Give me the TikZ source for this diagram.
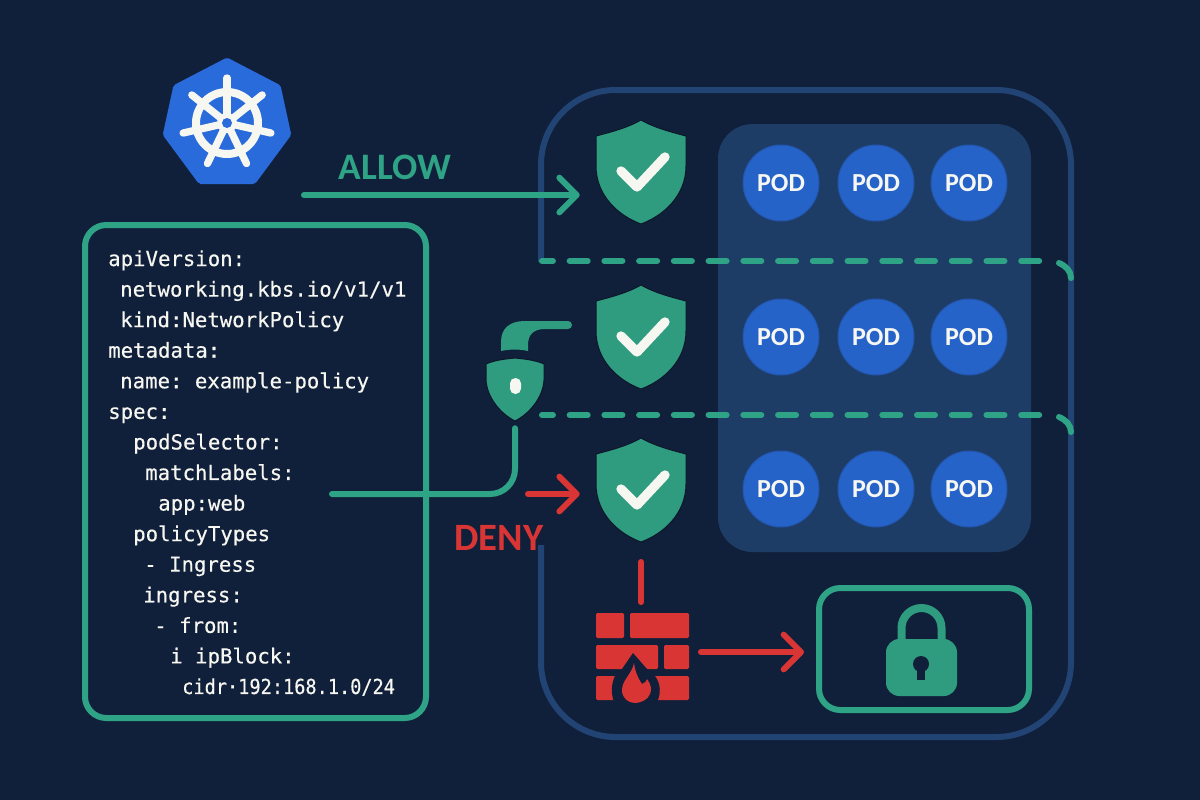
\documentclass[tikz,border=0pt]{standalone}
\usepackage{fontspec}
\setmainfont{Carlito}
\newfontfamily\yamlfont[FakeBold=0.35]{DejaVu Sans Mono}
\usetikzlibrary{arrows.meta,calc}
\definecolor{bgcol}{HTML}{11203A}
\definecolor{framecol}{HTML}{214474}
\definecolor{panelcol}{HTML}{1D3D66}
\definecolor{greencol}{HTML}{2F9C80}
\definecolor{linecol}{HTML}{2FA386}
\definecolor{podcol}{HTML}{2563C9}
\definecolor{kubecol}{HTML}{2A6BDB}
\definecolor{redcol}{HTML}{D93535}
\definecolor{whitecol}{HTML}{F7F7F2}
\tikzstyle{podnode}=[circle, fill=podcol, draw=kubecol!70!bgcol, line width=0.75pt, minimum size=57pt,
  inner sep=0pt, text=whitecol, font=\fontsize{19.5}{20}\selectfont\bfseries]
\tikzstyle{shieldbox}=[minimum width=67.5pt, minimum height=78pt, inner sep=0pt]
\tikzstyle{yaml}=[anchor=base west, inner sep=0pt, text=whitecol, font=\fontsize{15.5}{16}\selectfont\yamlfont\frenchspacing]
\tikzstyle{glabel}=[inner sep=0pt, font=\fontsize{28}{30}\selectfont\bfseries]
\tikzstyle{line}=[draw, line width=4.5pt, line cap=round]
\tikzstyle{gline}=[line, color=linecol]
\tikzstyle{rline}=[line, color=redcol]
\tikzstyle{dashline}=[gline, dash pattern=on 13.5pt off 12.55pt, dash phase=5.3pt]
\tikzstyle{barb}=[-{Straight Barb[length=13pt, width=26pt, round]}]
\tikzstyle{brick}=[fill=redcol, rounded corners=1pt]
\newcommand{\shield}[3]{
  \fill[greencol, draw=bgcol!70!black, line width=0.75pt, shift={(#2,#3)}] (0,-52)
    .. controls (-14,-44) and (-30,-40) .. (-45,-36) -- (-45,-6)
    .. controls (-45,24) and (-22,44) .. (0,52)
    .. controls (22,44) and (45,24) .. (45,-6) -- (45,-36)
    .. controls (30,-40) and (14,-44) .. (0,-52) -- cycle;
  \draw[whitecol, line width=7pt, line cap=round, line join=round, shift={(#2,#3)}]
    (-20,-1) -- (-4,15) -- (24,-15);
  \node (#1) [shieldbox] at (#2,#3) {};
}
\begin{document}
\begin{tikzpicture}[x=0.75pt,y=-0.75pt]
  \useasboundingbox[fill=bgcol] (0,0) rectangle (1200,800);

  % outer frame, open on the left
  \coordinate (fa) at (541,262);
  \coordinate (fb) at (541,545);
  \draw[framecol, line width=4.5pt, rounded corners=56pt] (fa) -- (541,90) -- (1071,90)
    -- (1071,737) -- (541,737) -- (fb);
  \node (panel) [fill=panelcol, rounded corners=26pt, minimum width=234.75pt, minimum height=321pt,
    inner sep=0pt] at (874.5,338) {};

  % pods
  \foreach \row/\yy in {1/183,2/337,3/489} {
    \node (p\row a) [podnode] at (781,\yy) {POD};
    \node (p\row b) [podnode] at (876,\yy) {POD};
    \node (p\row c) [podnode] at (969,\yy) {POD};
  }

  % shields
  \shield{s1}{641}{172}
  \shield{s2}{641}{337}
  \shield{s3}{641}{490}

  % kubernetes wheel
  \node (kube) [minimum size=90pt, inner sep=0pt] at (227,123) {};
  \fill[kubecol, draw=kubecol, line width=6pt, line join=round] (227,62) -- (277,88) -- (287,134)
    -- (253,180) -- (201,180) -- (167,134) -- (177,88) -- cycle;
  \draw[whitecol, line width=6pt] (kube.center) circle (31);
  \foreach \ang in {-90,-38.57,12.86,64.29,115.71,167.14,-141.43} {
    \draw[whitecol, line width=5.5pt, line cap=round] (kube.center) -- ++(\ang:45);
  }
  \fill[whitecol] (kube.center) circle (10);
  \fill[kubecol] (kube.center) circle (5);

  % yaml box
  \node (yamlbox) [draw=linecol, line width=4.5pt, rounded corners=16pt, minimum width=255.75pt,
    minimum height=369.75pt, inner sep=0pt] at (255.5,471.5) {};
  \foreach \ind/\txt [count=\i] in {108/apiVersion:, 120/{networking.kbs.io/v1/v1},
    120/kind:NetworkPolicy, 108/metadata:, 120/name: example-policy, 108/spec:,
    133/podSelector:, 145/matchLabels:, 158/app:web, 133/policyTypes, 144/- Ingress,
    143/ingress:, 154/- from:, 170/i ipBlock:,
    182/{\scalebox{0.9}[1]{cidr·192:168.1.0/24}}} {
    \node (y\i) [yaml] at ({\ind},{266+30.57*(\i-1)}) {\txt};
  }

  % labels
  \node (allow) [glabel, text=linecol] at (395,167.5) {ALLOW};
  \node (deny) [glabel, text=redcol, font=\fontsize{29}{30}\selectfont\bfseries] at (499,537.5) {DENY};

  % small shield with its hook
  \node (guard) [minimum width=43.5pt, minimum height=47pt, inner sep=0pt] at (515,390) {};
  \fill[greencol, draw=bgcol!70!black, line width=0.75pt] (515,358)
    .. controls (505,359) and (495,360) .. (486,364) -- (486,380)
    .. controls (487,398) and (501,414) .. (515,421)
    .. controls (529,414) and (543,398) .. (544,380) -- (544,364)
    .. controls (535,360) and (525,359) .. (515,358) -- cycle;
  \fill[whitecol, rounded corners=4pt] (510,378) rectangle (521,394);
  \fill[greencol] (501,351) -- (501,342) .. controls (501,328) and (510,321) .. (525,321)
    -- (568,321) arc[start angle=-90, end angle=90, radius=4] -- (545,329)
    .. controls (533,329) and (528,335) .. (528,345) -- (528,351)
    .. controls (519,349) and (510,349) .. (501,351) -- cycle;

  % dashed separators
  \coordinate (d1a) at (542,261);
  \coordinate (d1b) at (1048,261);
  \coordinate (d2a) at (542,415);
  \coordinate (d2b) at (1048,415);
  \coordinate (h1a) at (1059,263);
  \coordinate (h1b) at (1071,278);
  \coordinate (h2a) at (1059,417);
  \coordinate (h2b) at (1071,432);
  \draw[dashline] (d1a) -- (d1b);
  \draw[dashline] (d2a) -- (d2b);
  \draw[gline] (h1a) .. controls (1066,266) and (1071,271) .. (h1b);
  \draw[gline] (h2a) .. controls (1066,420) and (1071,425) .. (h2b);

  % firewall
  \fill[brick] (596,613) rectangle (624,638);
  \fill[brick] (630,613) rectangle (689,638);
  \fill[brick] (596,645) rectangle (658,669);
  \fill[brick] (664,645) rectangle (689,669);
  \fill[brick] (596,676) rectangle (620,700);
  \fill[brick] (650,676) rectangle (689,700);
  \fill[bgcol] (633,653) -- (622,669) -- (615,676) .. controls (611,684) and (611,694) .. (614,702)
    -- (657,702) .. controls (661,694) and (661,684) .. (655,676) -- (647,669) -- cycle;
  \fill[redcol] (634,663) .. controls (635,672) and (639,680) .. (642,684)
    .. controls (645,683) and (647,681) .. (647,679)
    .. controls (651,684) and (652,690) .. (650,694)
    .. controls (648,700) and (640,703) .. (635,703)
    .. controls (628,703) and (622,698) .. (622,690)
    .. controls (622,680) and (632,674) .. (634,663) -- cycle;
  \node (wall) [minimum width=69.75pt, minimum height=65.25pt, inner sep=0pt] at (642.5,656.5) {};

  % lock box
  \node (lockbox) [draw=linecol, line width=4.5pt, rounded corners=16pt, minimum width=157.5pt,
    minimum height=91.5pt, inner sep=0pt] at (924,649) {};
  \draw[greencol, line width=6pt] (901.5,645) -- (901.5,628)
    arc[start angle=-180, end angle=0, radius=20] -- (941.5,645);
  \fill[greencol, rounded corners=10pt] (886,639) rectangle (957,696);
  \fill[bgcol] (921,664) circle (8);
  \fill[bgcol] (917,664) rectangle (925,680);

  % connectors
  \coordinate (c1) at (304,195);
  \coordinate (c2) at (332,494);
  \coordinate (c3) at (528,494);
  \coordinate (c4) at (641,546);
  \coordinate (c5) at (701,652);
  \path [gline, barb, shorten >=12pt] (c1) -- (c1 -| s1.west);
  \path [gline, shorten >=5pt] (c2) -- (490,494) arc[start angle=90, end angle=0, radius=25] -- (guard.south);
  \path [rline, barb, shorten >=12pt] (c3) -- (c3 -| s3.west);
  \path [rline, shorten <=12pt, shorten >=8pt] (c4) -- (c4 |- wall.north);
  \path [rline, barb, shorten >=9pt] (c5) -- (c5 -| lockbox.west);
\end{tikzpicture}
\end{document}
